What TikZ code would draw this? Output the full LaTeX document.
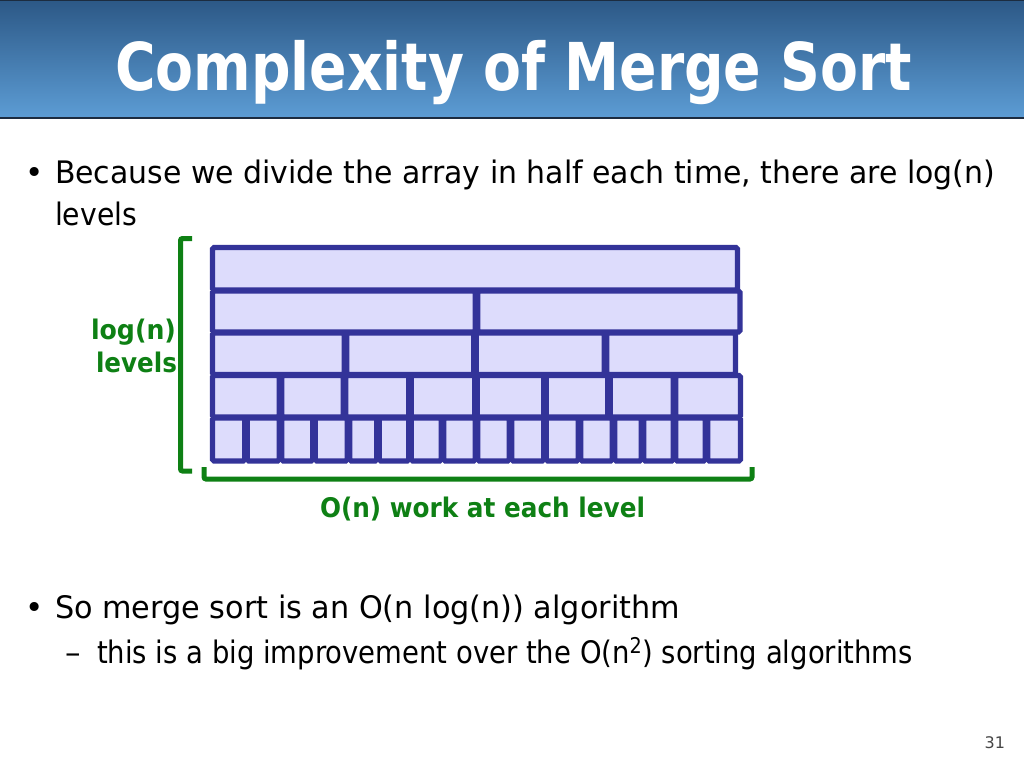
\documentclass[tikz,border=0pt]{standalone}
\usepackage{fontspec}
\setmainfont{DejaVu Sans}
\usepackage{graphicx}
\definecolor{cellfill}{RGB}{221,220,252}
\definecolor{cellline}{RGB}{51,51,153}
\definecolor{lblgreen}{RGB}{14,128,20}
\definecolor{bartop}{RGB}{44,88,134}
\definecolor{barbot}{RGB}{92,156,212}
\definecolor{barline}{RGB}{28,44,64}
\definecolor{pagegray}{RGB}{70,70,70}
\begin{document}
\begin{tikzpicture}[x=1pt,y=-1pt,
  cell/.style={draw=cellline, fill=cellfill, line width=5.2pt, rounded corners=1.5pt, inner sep=0pt, outer sep=0pt, anchor=north west},
  txt/.style={inner sep=0pt, outer sep=0pt, anchor=base west},
  body/.style={txt, font=\fontsize{31}{37}\selectfont},
  lbl/.style={txt, text=lblgreen, font=\fontsize{27}{32}\selectfont\bfseries},
  brk/.style={draw=lblgreen, line width=5pt, rounded corners=2pt}
]
\useasboundingbox (0,0) rectangle (1024,768);
\fill[white] (0,0) rectangle (1024,768);
% title bar
\shade[top color=bartop, bottom color=barbot] (0,0) rectangle (1024,117);
\draw[barline, line width=1pt] (0,0.5) -- (1024,0.5);
\draw[barline, line width=2.2pt] (0,118) -- (1024,118);
\node[txt, text=white, font=\fontsize{66}{70}\selectfont\bfseries] (title) at (115,90) {\resizebox{797pt}{\height}{Complexity of Merge Sort}};
% first bullet
\node[body, anchor=base] (b1) at (35,183) {•};
\node[body] (l1) at (55,183) {\resizebox{940pt}{\height}{Because we divide the array in half each time, there are log(n)}};
\node[body] (l2) at (55,225) {\resizebox{82pt}{\height}{levels}};
% cells
\foreach \a/\b [count=\i] in {212.5/737.5}
  \node[cell, minimum width={(\b-\a)*1pt}, minimum height=42.5pt] (ra\i) at (\a,247.5) {};
\foreach \a/\b [count=\i] in {212.5/475.25, 477.75/740}
  \node[cell, minimum width={(\b-\a)*1pt}, minimum height=41pt] (rb\i) at (\a,291) {};
\foreach \a/\b [count=\i] in {212.5/344.25, 346.75/473.75, 476.25/604.25, 606.75/735.5}
  \node[cell, minimum width={(\b-\a)*1pt}, minimum height=41.5pt] (rc\i) at (\a,333) {};
\foreach \a/\b [count=\i] in {212.5/279.25, 281.75/343.25, 345.75/408.75, 411.25/474.75, 477.25/543.75, 546.25/607.75, 610.25/673.25, 675.75/740.5}
  \node[cell, minimum width={(\b-\a)*1pt}, minimum height=41.5pt] (rd\i) at (\a,375.5) {};
\foreach \a/\b [count=\i] in {212.5/244.75, 247.25/279.25, 281.75/312.75, 315.25/347.25, 349.75/376.75, 379.25/408.75, 411.25/441.25, 443.75/475.25, 477.75/509.25, 511.75/543.75, 546.25/578.25, 580.75/612.25, 614.75/641.25, 643.75/673.25, 675.75/705.25, 707.75/740.5}
  \node[cell, minimum width={(\b-\a)*1pt}, minimum height=43pt] (re\i) at (\a,418) {};
% brackets
\coordinate (lbt) at (192,238.5);
\coordinate (lbb) at (192,471);
\draw[brk] (lbt) -- (180.5,238.5) -- (180.5,471) -- (lbb);
\coordinate (bbl) at (204,467);
\coordinate (bbr) at (752,467);
\draw[brk] (bbl) -- (204,479) -- (752,479) -- (bbr);
% labels
\node[lbl] (loglbl) at (91,339) {\resizebox{85pt}{\height}{log(n)}};
\node[lbl] (levlbl) at (96,372) {\resizebox{81pt}{\height}{levels}};
\node[lbl] (worklbl) at (320,517) {\resizebox{325pt}{\height}{O(n) work at each level}};
% second bullet
\node[body, anchor=base] (b2) at (35,618) {•};
\node[body] (l3) at (55,618) {\resizebox{625pt}{\height}{So merge sort is an O(n log(n)) algorithm}};
\node[body] (d1) at (65,663) {–};
\node[body] (l4) at (97,663) {\resizebox{816pt}{\height}{this is a big improvement over the O(n\textsuperscript{2}) sorting algorithms}};
% page number
\node[txt, anchor=base east, text=pagegray, font=\fontsize{16}{19}\selectfont] (pg) at (1005,748) {31};
\end{tikzpicture}
\end{document}
